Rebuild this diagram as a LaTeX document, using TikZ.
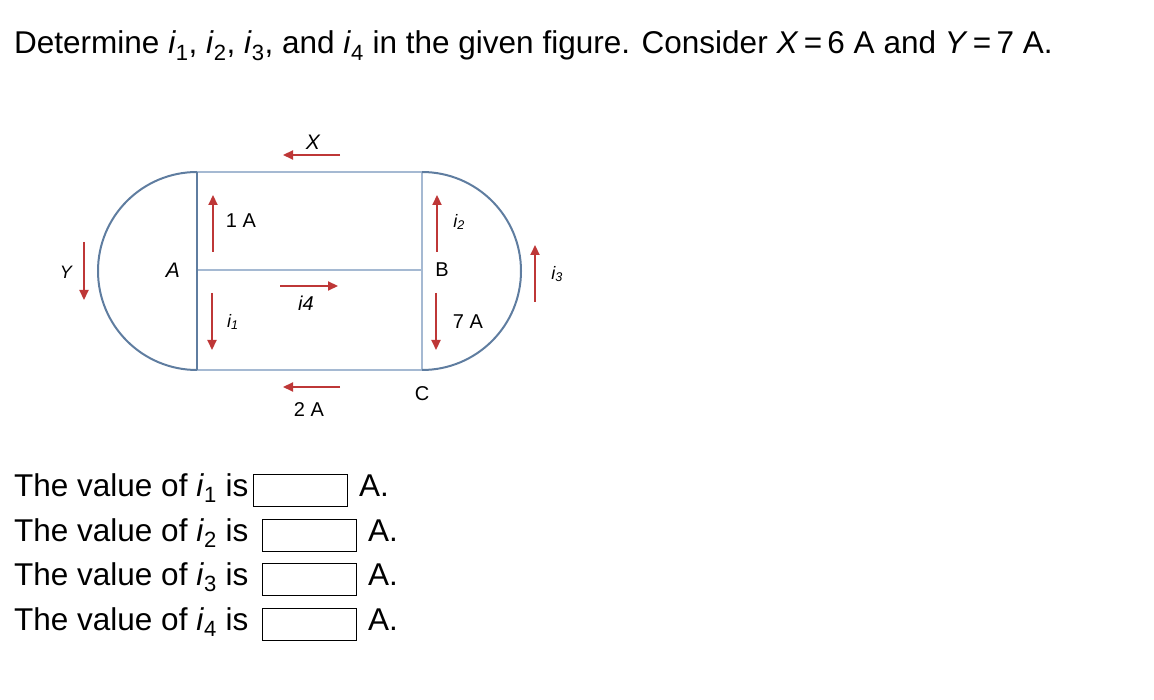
\documentclass[tikz,border=0pt]{standalone}
\usepackage{fontspec}
\setmainfont{Liberation Sans}
\usetikzlibrary{arrows.meta}
\definecolor{wdark}{RGB}{95,125,160}
\definecolor{wlight}{RGB}{165,185,210}
\definecolor{ared}{RGB}{190,55,55}
\tikzset{
 wire/.style={line width=2.6pt,wlight},
 wired/.style={line width=2pt,wdark},
 cur/.style={ared,line width=2.2pt,-{Triangle[length=10pt,width=9pt]}},
 lbl/.style={font=\fontsize{20}{23}\selectfont,inner sep=0pt},
 big/.style={font=\fontsize{31.5}{35}\selectfont,inner sep=0pt,anchor=base west},
 ansbox/.style={draw,line width=1pt,minimum width=94pt,minimum height=32pt,inner sep=0pt,anchor=north west}
}
\begin{document}
\begin{tikzpicture}[x=1pt,y=-1pt]
\useasboundingbox (0,0) rectangle (1154,700);
% circuit
\coordinate (TL) at (197,172); \coordinate (BL) at (197,370);
\coordinate (TR) at (422,172); \coordinate (BR) at (422,370);
\coordinate (ML) at (197,270); \coordinate (MR) at (422,270);
\draw[wire] (TL) -- (TR);
\draw[wire] (BL) -- (BR);
\draw[wire] (ML) -- (MR);
\draw[wire] (TR) -- (BR);
\draw[wired] (TL) -- (BL);
\draw[wired] (TL) arc[start angle=90,end angle=270,radius=99pt];
\draw[wired] (TR) arc[start angle=90,end angle=-90,radius=99pt];
% arrows
\coordinate (xa) at (340,155); \coordinate (xb) at (283,155);
\draw[cur] (xa) -- (xb); \node[lbl,font=\fontsize{21}{23}\selectfont\itshape\rmfamily] (X) at (313,142) {X};
\coordinate (a1a) at (213,252); \coordinate (a1b) at (213,195);
\draw[cur] (a1a) -- (a1b); \node[lbl] (l1A) at (241,221) {1 A};
\coordinate (i1a) at (212,293); \coordinate (i1b) at (212,350);
\draw[cur] (i1a) -- (i1b); \node[lbl,font=\fontsize{18}{20}\selectfont\itshape] (li1) at (233,322) {i\textsubscript{1}};
\coordinate (i4a) at (280,286); \coordinate (i4b) at (338,286);
\draw[cur] (i4a) -- (i4b); \node[lbl,font=\fontsize{20}{22}\selectfont\itshape] (li4) at (306,303) {i4};
\coordinate (a2a) at (340,387); \coordinate (a2b) at (283,387);
\draw[cur] (a2a) -- (a2b); \node[lbl] (l2A) at (309,410) {2 A};
\coordinate (i2a) at (437,252); \coordinate (i2b) at (437,195);
\draw[cur] (i2a) -- (i2b); \node[lbl,font=\fontsize{18}{20}\selectfont\itshape] (li2) at (459,222) {i\textsubscript{2}};
\coordinate (a7a) at (436,293); \coordinate (a7b) at (436,350);
\draw[cur] (a7a) -- (a7b); \node[lbl] (l7A) at (468,322) {7 A};
\coordinate (i3a) at (535,302); \coordinate (i3b) at (535,245);
\draw[cur] (i3a) -- (i3b); \node[lbl,font=\fontsize{18}{20}\selectfont\itshape] (li3) at (557,274) {i\textsubscript{3}};
\coordinate (ya) at (84,242); \coordinate (yb) at (84,300);
\draw[cur] (ya) -- (yb); \node[lbl,font=\fontsize{18}{20}\selectfont\itshape\rmfamily] (Y) at (66,272) {Y};
\node[lbl,font=\fontsize{21}{23}\selectfont\itshape] (A) at (173,270) {A};
\node[lbl,font=\fontsize{20}{22}\selectfont] (B) at (442,270) {B};
\node[lbl,font=\fontsize{20}{22}\selectfont] (C) at (422,394) {C};
% text
\node[big] (title) at (14,54) {Determine \textit{i}\textsubscript{1}, \textit{i}\textsubscript{2}, \textit{i}\textsubscript{3}, and \textit{i}\textsubscript{4} in the given figure. Consider \textit{X}\,=\,6 A and \textit{Y}\,=\,7 A.};
\node[big] (t1) at (14,496) {The value of \textit{i}\textsubscript{1} is};
\node[ansbox] (b1) at (253,474) {};
\node[big] (u1) at (359,496) {A.};
\node[big] (t2) at (14,541) {The value of \textit{i}\textsubscript{2} is};
\node[ansbox] (b2) at (262,519) {};
\node[big] (u2) at (368,541) {A.};
\node[big] (t3) at (14,585) {The value of \textit{i}\textsubscript{3} is};
\node[ansbox] (b3) at (262,563) {};
\node[big] (u3) at (368,585) {A.};
\node[big] (t4) at (14,630) {The value of \textit{i}\textsubscript{4} is};
\node[ansbox] (b4) at (262,608) {};
\node[big] (u4) at (368,630) {A.};
\end{tikzpicture}
\end{document}
